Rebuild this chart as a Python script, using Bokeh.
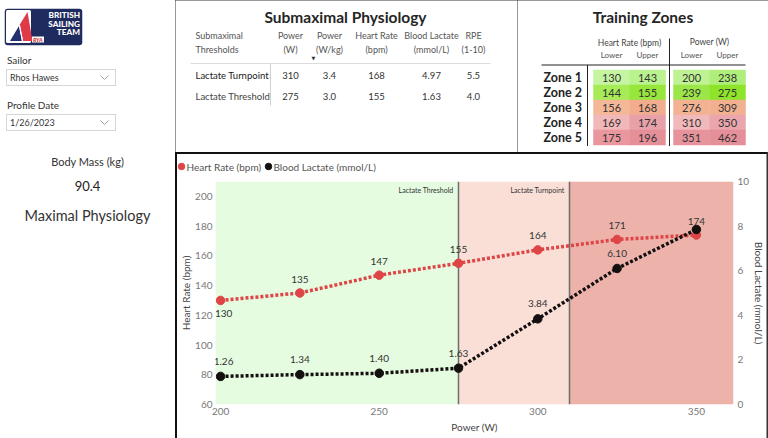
from bokeh.plotting import figure
from bokeh.models import (Range1d, LinearAxis, FixedTicker, BoxAnnotation, Span, Label,
                          ColumnDataSource, Div)
from bokeh.layouts import row, column
from bokeh.core.properties import value
from bokeh.embed import file_html
from bokeh.resources import INLINE

# ---------------- data ----------------
sailor = "Rhos Hawes"
profile_date = "1/26/2023"
body_mass = 90.4

# chart
series_names = ["Heart Rate (bpm)", "Blood Lactate (mmol/L)"]
power = [200, 225, 250, 275, 300, 325, 350]
heart_rate = [130, 135, 147, 155, 164, 171, 174]
blood_lactate = [1.26, 1.34, 1.40, 1.63, 3.84, 6.10, 7.85]
x_ticks = [200, 250, 300, 350]
hr_ticks = [60, 80, 100, 120, 140, 160, 180, 200]
lac_ticks = [0, 2, 4, 6, 8, 10]

# submaximal table
thresholds = ["Lactate Turnpoint", "Lactate Threshold"]
sub_head_1 = ["Power", "Power", "Heart Rate", "Blood Lactate", "RPE"]
sub_head_2 = ["(W)", "(W/kg)", "(bpm)", "(mmol/L)", "(1-10)"]
thr_power = [310, 275]
thr_power_kg = [3.4, 3.0]
thr_hr = [168, 155]
thr_lactate = [4.97, 1.63]
thr_rpe = [5.5, 4.0]

# training zones
zones = ["Zone 1", "Zone 2", "Zone 3", "Zone 4", "Zone 5"]
hr_lower = [130, 144, 156, 169, 175]
hr_upper = [143, 155, 168, 174, 196]
pw_lower = [200, 239, 276, 310, 351]
pw_upper = [238, 275, 309, 350, 462]

# ---------------- style / layout constants ----------------
FONT = "Lato"
RED = "#DE4547"
BLACK = "#141010"
cell_colors = {
    "hr_lower": ["#C6F5A2", "#A7EC57", "#F4B898", "#F2B8B9", "#E9969E"],
    "hr_upper": ["#B9F28E", "#97E63B", "#F2AC8E", "#E9A1A9", "#E58F99"],
    "pw_lower": ["#BEF292", "#9DE649", "#F3B393", "#F2B9BD", "#E7939C"],
    "pw_upper": ["#B0EE7B", "#8DE42A", "#F2B090", "#EAA5AD", "#E48F99"],
}
SUB_W, SUB_H = 342, 152
SUB_COL_X = [115, 154, 201, 256, 298]
SUB_ROW_Y0, SUB_ROW_H = 75, 21
SUB_LABEL_X = 20
Z_W, Z_H = 251, 152
Z_HR_LEFT, Z_PW_LEFT, Z_CELL_W = 76, 156, 36
Z_ROW_Y0, Z_ROW_H = 77, 15
Z_LABEL_X = 26
CH_W = 593
LEG_H = 22
LEG_X = [6, 93]
LEG_Y = 14

lt_power = thr_power[thresholds.index("Lactate Threshold")]
tp_power = thr_power[thresholds.index("Lactate Turnpoint")]

# ---------------- left column (HTML) ----------------
chev = ('<svg style="position:absolute;right:6px;top:5px" width="9" height="6">'
        '<polyline points="0.5,0.5 4.5,4.5 8.5,0.5" fill="none" stroke="#999" stroke-width="0.9"/></svg>')
left_html = f"""
<div style="position:relative;width:175px;height:438px;font-family:'{FONT}',sans-serif;color:#333;background:#fff;">
 <svg style="position:absolute;left:4px;top:8px" width="79" height="38" viewBox="0 0 79 38">
  <rect x="0.75" y="0.75" width="77.5" height="36.5" rx="3" fill="#1f2a5e"/>
  <rect x="2" y="2" width="25" height="33" rx="1.5" fill="#ffffff"/>
  <polygon points="6,33 15,18 18,33" fill="#24306e"/>
  <polygon points="15.8,16.5 23.5,4 28.5,33 19,33" fill="#e03a48"/>
  <line x1="15.4" y1="17.2" x2="18.5" y2="33" stroke="#ffffff" stroke-width="1.2"/>
  <text x="76" y="10" text-anchor="end" font-family="{FONT}" font-weight="900" font-size="8.2" fill="#ffffff">BRITISH</text>
  <text x="76" y="18.5" text-anchor="end" font-family="{FONT}" font-weight="900" font-size="8.2" fill="#ffffff">SAILING</text>
  <text x="76" y="27" text-anchor="end" font-family="{FONT}" font-weight="900" font-size="8.2" fill="#ffffff">TEAM</text>
  <rect x="28" y="28.5" width="12" height="6" fill="#ffffff"/>
  <text x="29" y="33.8" font-family="{FONT}" font-style="italic" font-weight="900" font-size="5.5" fill="#d3303e">RYA</text>
 </svg>
 <div style="position:absolute;left:7px;top:53px;font-size:10px;color:#333;">Sailor</div>
 <div style="position:absolute;left:6px;top:69px;width:110px;height:17px;border:1px solid #d6d6d6;box-sizing:border-box;font-size:9px;line-height:15px;padding-left:3px;color:#333;">{sailor}{chev}</div>
 <div style="position:absolute;left:7px;top:98px;font-size:10px;color:#333;">Profile Date</div>
 <div style="position:absolute;left:6px;top:114px;width:110px;height:17px;border:1px solid #d6d6d6;box-sizing:border-box;font-size:9px;line-height:15px;padding-left:3px;color:#333;">{profile_date}{chev}</div>
 <div style="position:absolute;left:0;top:154px;width:175px;text-align:center;font-size:11px;color:#333;">Body Mass (kg)</div>
 <div style="position:absolute;left:0;top:177px;width:175px;text-align:center;font-size:13px;color:#222;">{body_mass:.1f}</div>
 <div style="position:absolute;left:0;top:206px;width:175px;text-align:center;font-size:14.5px;color:#333;">Maximal Physiology</div>
</div>
"""
left = Div(text=left_html, width=175, height=438, margin=0)


def panel_fig(w, h):
    f = figure(width=w, height=h, x_range=Range1d(0, w), y_range=Range1d(h, 0),
               output_backend="svg", toolbar_location=None, min_border=0,
               x_axis_type=None, y_axis_type=None)
    f.outline_line_color = None
    f.grid.visible = False
    return f


def txt(f, xs, ys, texts, size, color="#333", align="center", bold=False):
    f.text(x=xs, y=ys, text=texts, text_align=align, text_baseline="middle",
           text_font=value(FONT), text_font_size=size, text_color=color,
           text_font_style="bold" if bold else "normal")


# ---------------- submaximal table ----------------
sub = panel_fig(SUB_W, SUB_H)
sub.styles = {"outline": "1px solid #333", "outline-offset": "-1px"}
txt(sub, [SUB_W / 2 - 1], [16], ["Submaximal Physiology"], "15.5px", "#252525", bold=True)
txt(sub, [SUB_LABEL_X, SUB_LABEL_X], [35, 49], ["Submaximal", "Thresholds"], "9px", "#555", "left")
txt(sub, SUB_COL_X, [35] * 5, sub_head_1, "9px", "#555")
txt(sub, SUB_COL_X, [49] * 5, sub_head_2, "9px", "#555")
sub.text(x=[SUB_COL_X[1] - 16], y=[57], text=["▼"], text_align="center", text_baseline="middle",
         text_font=value("DejaVu Sans"), text_font_size="5px", text_color="#333")
row_y = [SUB_ROW_Y0 + i * SUB_ROW_H for i in range(len(thresholds))]
txt(sub, [SUB_LABEL_X], [row_y[0]], [thresholds[0]], "9.5px", "#1a1a1a", "left")
txt(sub, [SUB_LABEL_X], [row_y[1]], [thresholds[1]], "9.5px", "#444", "left")
col_values = [thr_power, thr_power_kg, thr_hr, thr_lactate, thr_rpe]
col_fmt = ["{:.0f}", "{:.1f}", "{:.0f}", "{:.2f}", "{:.1f}"]
xs, ys, ts = [], [], []
for cx, vals, fmt in zip(SUB_COL_X, col_values, col_fmt):
    for ry, v in zip(row_y, vals):
        xs.append(cx)
        ys.append(ry)
        ts.append(fmt.format(v))
txt(sub, xs, ys, ts, "9.5px", "#333")
sub.segment(x0=[SUB_LABEL_X - 5, 95], y0=[row_y[0] - 12, row_y[0] - 12],
            x1=[SUB_COL_X[-1] + 17, 95], y1=[row_y[0] - 12, row_y[-1] + 9],
            line_color=["#dcdcdc", "#cfcfcf"], line_width=1)

# ---------------- training zones ----------------
zf = panel_fig(Z_W, Z_H)
zf.styles = {"outline": "1px solid #333", "outline-offset": "-1px"}
txt(zf, [Z_W / 2], [16], ["Training Zones"], "15.5px", "#252525", bold=True)
col_x = [Z_HR_LEFT + Z_CELL_W / 2, Z_HR_LEFT + 1.5 * Z_CELL_W,
         Z_PW_LEFT + Z_CELL_W / 2, Z_PW_LEFT + 1.5 * Z_CELL_W]
zrow_y = [Z_ROW_Y0 + i * Z_ROW_H for i in range(len(zones))]
txt(zf, [Z_HR_LEFT + Z_CELL_W, Z_PW_LEFT + Z_CELL_W], [42, 41], ["Heart Rate (bpm)", "Power (W)"],
    "8.5px", "#444")
txt(zf, col_x, [54] * 4, ["Lower", "Upper", "Lower", "Upper"], "8px", "#555")
zx, zy, zt, zc = [], [], [], []
for key, cx, vals in [("hr_lower", col_x[0], hr_lower), ("hr_upper", col_x[1], hr_upper),
                      ("pw_lower", col_x[2], pw_lower), ("pw_upper", col_x[3], pw_upper)]:
    for ry, v, col in zip(zrow_y, vals, cell_colors[key]):
        zx.append(cx)
        zy.append(ry)
        zt.append(str(v))
        zc.append(col)
zsrc = ColumnDataSource(dict(x=zx, y=zy, t=zt, c=zc))
zf.rect(x="x", y="y", width=Z_CELL_W, height=Z_ROW_H, source=zsrc, fill_color="c",
        line_color="c", line_width=0.5)
zf.text(x="x", y="y", text="t", source=zsrc, text_align="center", text_baseline="middle",
        text_font=value(FONT), text_font_size="11px", text_color="#333")
txt(zf, [Z_LABEL_X] * len(zones), zrow_y, zones, "12.5px", "#222", "left", bold=True)
top_line = zrow_y[0] - Z_ROW_H / 2 - 5
bot_line = zrow_y[-1] + Z_ROW_H / 2 + 1
mid_x = (Z_HR_LEFT + 2 * Z_CELL_W + Z_PW_LEFT) / 2
zf.segment(x0=[Z_LABEL_X - 2, Z_HR_LEFT - 6, mid_x], y0=[top_line, top_line, 38],
           x1=[Z_PW_LEFT + 2 * Z_CELL_W, Z_HR_LEFT - 6, mid_x], y1=[top_line, bot_line, bot_line],
           line_color="#222", line_width=1)

# ---------------- chart legend strip ----------------
leg = panel_fig(CH_W, LEG_H)
leg.border_fill_color = None
leg.background_fill_color = None
leg.styles = {"box-shadow": "inset 2px 0 0 #111, inset -1.5px 0 0 #333, inset 0 2px 0 #111"}
leg.scatter(x=LEG_X, y=[LEG_Y] * 2, color=[RED, BLACK], size=6.5)
txt(leg, [x + 5 for x in LEG_X], [LEG_Y] * 2, series_names, "10px", "#555", "left")

# ---------------- chart ----------------
chart = figure(width=CH_W, height=264, x_range=Range1d(198.4, 361.7), y_range=Range1d(60, 210),
               output_backend="svg", toolbar_location=None,
               min_border_left=40, min_border_right=35, min_border_top=7, min_border_bottom=34)
chart.extra_y_ranges = {"lac": Range1d(0, 10)}
chart.outline_line_color = None
chart.grid.visible = False
chart.border_fill_color = None
chart.styles = {"box-shadow": "inset 2px 0 0 #111, inset -1.5px 0 0 #333"}

chart.add_layout(BoxAnnotation(right=lt_power, fill_color="#E6FCE0", fill_alpha=1,
                               line_alpha=0, level="underlay"))
chart.add_layout(BoxAnnotation(left=lt_power, right=tp_power, fill_color="#FADFD6", fill_alpha=1,
                               line_alpha=0, level="underlay"))
chart.add_layout(BoxAnnotation(left=tp_power, fill_color="#EDB3AB", fill_alpha=1,
                               line_alpha=0, level="underlay"))
for loc in (lt_power, tp_power):
    chart.add_layout(Span(location=loc, dimension="height", line_color="#6e6e6e",
                          line_width=1.5, level="underlay"))
chart.add_layout(Label(x=lt_power, y=210, text="Lactate Threshold", text_align="right",
                       text_baseline="top", x_offset=-5, y_offset=-4, text_font=FONT,
                       text_font_size="7px", text_color="#333"))
chart.add_layout(Label(x=tp_power, y=210, text="Lactate Turnpoint", text_align="right",
                       text_baseline="top", x_offset=-5, y_offset=-4, text_font=FONT,
                       text_font_size="7px", text_color="#333"))

first = min(power)
hr_off = [13 if v == min(heart_rate) else -14 for v in heart_rate]
x_off = [3 if p == first else 0 for p in power]
lac_txt = [f"{v:.2f}" for v in blood_lactate[:-1]] + [""]
src = ColumnDataSource(dict(power=power, hr=heart_rate, lac=blood_lactate,
                            hr_txt=[str(v) for v in heart_rate], hr_off=hr_off, x_off=x_off,
                            lac_txt=lac_txt))
chart.line("power", "hr", source=src, line_color=RED, line_width=3.5, line_dash="3 2")
chart.scatter("power", "hr", source=src, size=8.5, color=RED)
chart.line("power", "lac", source=src, y_range_name="lac", line_color=BLACK, line_width=3.5,
           line_dash="3 2")
chart.scatter("power", "lac", source=src, y_range_name="lac", size=8.5, color=BLACK)
chart.text("power", "hr", text="hr_txt", source=src, x_offset="x_off", y_offset="hr_off",
           text_align="center", text_baseline="middle", text_font=value(FONT),
           text_font_size="10px", text_color="#333")
chart.text("power", "lac", text="lac_txt", source=src, y_range_name="lac", x_offset="x_off",
           y_offset=-15, text_align="center", text_baseline="middle", text_font=value(FONT),
           text_font_size="10px", text_color="#333")

chart.add_layout(LinearAxis(y_range_name="lac", axis_label="Blood Lactate (mmol/L)"), "right")
chart.xaxis.axis_label = "Power (W)"
chart.yaxis[0].axis_label = "Heart Rate (bpm)"
chart.xaxis.ticker = FixedTicker(ticks=x_ticks)
chart.yaxis[0].ticker = FixedTicker(ticks=hr_ticks)
chart.yaxis[1].ticker = FixedTicker(ticks=lac_ticks)
for ax in chart.axis:
    ax.axis_line_color = None
    ax.major_tick_line_color = None
    ax.minor_tick_line_color = None
    ax.major_tick_out = 0
    ax.major_tick_in = 0
    ax.minor_tick_out = 0
    ax.minor_tick_in = 0
    ax.major_label_text_font = FONT
    ax.major_label_text_font_size = "10px"
    ax.major_label_text_color = "#777"
    ax.axis_label_text_font = FONT
    ax.axis_label_text_font_size = "10px"
    ax.axis_label_text_font_style = "normal"
    ax.axis_label_text_color = "#444"
chart.xaxis.major_label_standoff = 3
chart.xaxis.axis_label_standoff = 3
chart.yaxis[0].major_label_standoff = 3
chart.yaxis[0].axis_label_standoff = 0
chart.yaxis[1].major_label_standoff = 4
chart.yaxis[1].axis_label_standoff = 1

layout = row(left, column(row(sub, zf, spacing=0), row(leg, spacing=0), chart, spacing=0),
             spacing=0)
open("out.html", "w").write(file_html(layout, INLINE))
